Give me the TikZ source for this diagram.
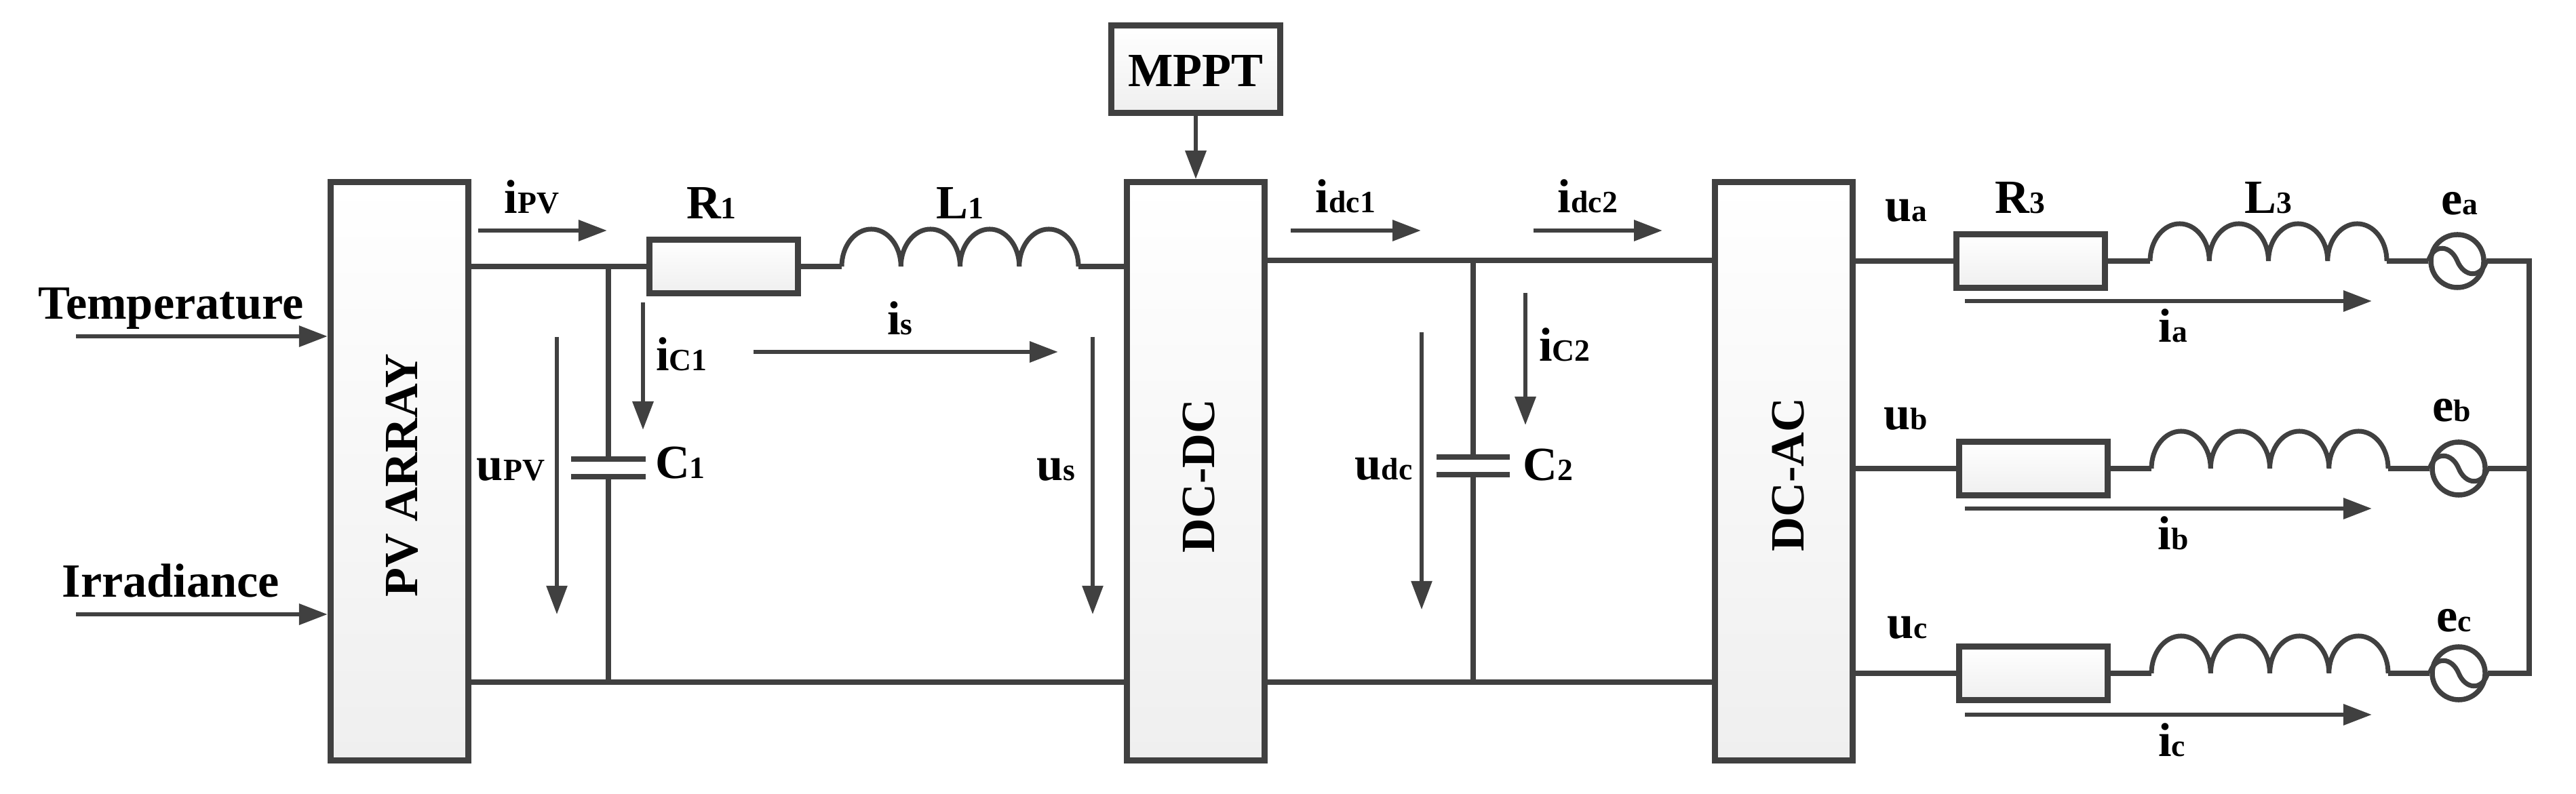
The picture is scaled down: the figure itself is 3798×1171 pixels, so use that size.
\documentclass[tikz,border=0pt]{standalone}
\usepackage{fontspec}
\setmainfont{Liberation Serif}
\usetikzlibrary{arrows.meta}
\definecolor{wiregray}{HTML}{404040}
\definecolor{boxgray}{HTML}{EFEFEF}
\newcommand{\subfont}{\fontsize{13pt}{16pt}\bfseries\selectfont}
\newcommand{\lbl}[2]{#1{\subfont #2}}
\tikzset{
  wire/.style={color=wiregray,line width=0.085cm},
  coilline/.style={color=wiregray,line width=0.07cm},
  coilturns/.style={insert path={arc (180:0:0.436cm and 0.55cm) arc (180:0:0.436cm and 0.55cm) arc (180:0:0.436cm and 0.55cm) arc (180:0:0.436cm and 0.55cm)}},
  flow/.style={color=wiregray,line width=0.065cm,-{Triangle[length=0.42cm,width=0.3cm]}},
  flowthin/.style={color=wiregray,line width=0.055cm,-{Triangle[length=0.42cm,width=0.3cm]}},
  block/.style={draw=wiregray,line width=0.09cm,top color=white,bottom color=boxgray,inner sep=0pt,minimum width=#1},
  block/.default=2.03cm,
  resistor/.style={draw=wiregray,line width=0.09cm,top color=white,bottom color=boxgray,inner sep=0pt,minimum width=2.18cm,minimum height=0.79cm},
  source/.style={draw=wiregray,circle,line width=0.075cm,fill=white,inner sep=0pt,minimum size=0.78cm},
  blocktext/.style={inner sep=0pt,font=\fontsize{20pt}{24pt}\bfseries\selectfont},
  tag/.style={blocktext,anchor=base},
}
\begin{document}
\begin{tikzpicture}[x=0.01cm,y=-0.01cm]
\useasboundingbox (0,0) rectangle (3798,1171);
% converter blocks
\node[block,minimum height=8.52cm] (pv) at (589,695) {};
\node[block,minimum height=8.52cm] (dcdc) at (1763,695) {};
\node[block,minimum height=8.52cm] (dcac) at (2630,695) {};
\node[block=2.48cm,minimum height=1.29cm] (mppt) at (1763,102) {};
\node[blocktext,rotate=90] (pvtext) at (593,701) {PV ARRAY};
\node[blocktext,rotate=90] (dcdctext) at (1768,702) {DC-DC};
\node[blocktext,rotate=90] (dcactext) at (2637,700) {DC-AC};
\node[blocktext] (mppttext) at (1763,104) {MPPT};
\draw[flow] (mppt.south) -- (mppt.south |- dcdc.north);
% inputs
\node[tag] (temp) at (252,471) {Temperature};
\node[tag] (irr) at (252,881) {Irradiance};
\coordinate (tempin) at (112,496);
\coordinate (irrin) at (112,906);
\draw[flow] (tempin) -- (tempin -| pv.west);
\draw[flow] (irrin) -- (irrin -| pv.west);
% dc side, first stage
\node[resistor] (rone) at (1067,393) {};
\coordinate (lonea) at (1241,393);
\coordinate (loneb) at (1590,393);
\draw[wire] (rone.west -| pv.east) -- (rone.west);
\draw[wire] (rone.east) -- (lonea);
\draw[coilline] (lonea) [coilturns];
\draw[wire] (loneb) -- (loneb -| dcdc.west);
\coordinate (cone) at (897,393);
\coordinate (coneu) at (897,677);
\coordinate (coned) at (897,703);
\coordinate (coneb) at (897,1006);
\draw[wire] (cone) -- (coneu);
\draw[wire] (coned) -- (coneb);
\draw[wire] ([xshift=-0.55cm]coneu) -- ([xshift=0.55cm]coneu);
\draw[wire] ([xshift=-0.55cm]coned) -- ([xshift=0.55cm]coned);
\draw[wire] (coneb -| pv.east) -- (coneb -| dcdc.west);
% dc side, second stage
\coordinate (ctwo) at (2172,384);
\coordinate (ctwou) at (2172,674);
\coordinate (ctwod) at (2172,700);
\coordinate (ctwob) at (2172,1006);
\draw[wire] (ctwo -| dcdc.east) -- (ctwo -| dcac.west);
\draw[wire] (ctwo) -- (ctwou);
\draw[wire] (ctwod) -- (ctwob);
\draw[wire] ([xshift=-0.54cm]ctwou) -- ([xshift=0.54cm]ctwou);
\draw[wire] ([xshift=-0.54cm]ctwod) -- ([xshift=0.54cm]ctwod);
\draw[wire] (ctwob -| dcdc.east) -- (ctwob -| dcac.west);
% ac side
\node[resistor] (ra) at (2994,385) {};
\node[resistor] (rb) at (2998,691) {};
\node[resistor] (rc) at (2998,993) {};
\coordinate (laa) at (3170,385);
\coordinate (lab) at (3519,385);
\coordinate (lba) at (3172,691);
\coordinate (lbb) at (3521,691);
\coordinate (lca) at (3172,993);
\coordinate (lcb) at (3521,993);
\node[source] (ea) at (3623,385) {};
\node[source] (eb) at (3625,691) {};
\node[source] (ec) at (3625,993) {};
\coordinate (busa) at (3729,385);
\coordinate (busb) at (3729,691);
\coordinate (busc) at (3729,993);
\draw[wire] (ra.west -| dcac.east) -- (ra.west);
\draw[wire] (ra.east) -- (laa);
\draw[coilline] (laa) [coilturns];
\draw[wire] (lab) -- (ea.west);
\draw[wire] (ea.east) -- (busa);
\draw[coilline] (ea.west) .. controls +(8,-26) and +(-10,-24) .. (ea.center) .. controls +(10,24) and +(-8,26) .. (ea.east);
\draw[wire] (rb.west -| dcac.east) -- (rb.west);
\draw[wire] (rb.east) -- (lba);
\draw[coilline] (lba) [coilturns];
\draw[wire] (lbb) -- (eb.west);
\draw[wire] (eb.east) -- (busb);
\draw[coilline] (eb.west) .. controls +(8,-26) and +(-10,-24) .. (eb.center) .. controls +(10,24) and +(-8,26) .. (eb.east);
\draw[wire] (rc.west -| dcac.east) -- (rc.west);
\draw[wire] (rc.east) -- (lca);
\draw[coilline] (lca) [coilturns];
\draw[wire] (lcb) -- (ec.west);
\draw[wire] (ec.east) -- (busc);
\draw[coilline] (ec.west) .. controls +(8,-26) and +(-10,-24) .. (ec.center) .. controls +(10,24) and +(-8,26) .. (ec.east);
\draw[wire,line cap=rect] (busa) -- (busc);
% current and voltage arrows
\coordinate (ipva) at (705,340);
\coordinate (ipvb) at (895,340);
\draw[flow] (ipva) -- (ipvb);
\coordinate (icoa) at (948,446);
\coordinate (icob) at (948,634);
\draw[flow] (icoa) -- (icob);
\coordinate (isa) at (1111,519);
\coordinate (isb) at (1560,519);
\draw[flow] (isa) -- (isb);
\coordinate (upva) at (821,497);
\coordinate (upvb) at (821,906);
\draw[flowthin] (upva) -- (upvb);
\coordinate (usa) at (1611,497);
\coordinate (usb) at (1611,906);
\draw[flowthin] (usa) -- (usb);
\coordinate (idcoa) at (1903,340);
\coordinate (idcob) at (2095,340);
\draw[flow] (idcoa) -- (idcob);
\coordinate (idcta) at (2261,340);
\coordinate (idctb) at (2451,340);
\draw[flow] (idcta) -- (idctb);
\coordinate (icta) at (2249,432);
\coordinate (ictb) at (2249,627);
\draw[flow] (icta) -- (ictb);
\coordinate (udca) at (2096,490);
\coordinate (udcb) at (2096,899);
\draw[flowthin] (udca) -- (udcb);
\coordinate (iaa) at (2897,444);
\coordinate (iab) at (3497,444);
\draw[flow] (iaa) -- (iab);
\coordinate (iba) at (2897,750);
\coordinate (ibb) at (3497,750);
\draw[flow] (iba) -- (ibb);
\coordinate (ica) at (2897,1054);
\coordinate (icb) at (3497,1054);
\draw[flow] (ica) -- (icb);
% labels
\node[tag] (ipvtext) at (784,315) {\lbl{i}{PV}};
\node[tag] (ronetext) at (1049,323) {\lbl{R}{1}};
\node[tag] (lonetext) at (1415,323) {\lbl{L}{1}};
\node[tag] (icotext) at (1005,547) {\lbl{i}{C1}};
\node[tag] (istext) at (1327,494) {\lbl{i}{s}};
\node[tag] (upvtext) at (753,709) {\lbl{u}{PV}};
\node[tag] (conetext) at (1003,706) {\lbl{C}{1}};
\node[tag] (ustext) at (1557,709) {\lbl{u}{s}};
\node[tag] (idcotext) at (1984,314) {\lbl{i}{dc1}};
\node[tag] (idcttext) at (2341,314) {\lbl{i}{dc2}};
\node[tag] (icttext) at (2307,533) {\lbl{i}{C2}};
\node[tag] (udctext) at (2040,708) {\lbl{u}{dc}};
\node[tag] (ctwotext) at (2282,709) {\lbl{C}{2}};
\node[tag] (uatext) at (2810,327) {\lbl{u}{a}};
\node[tag] (rthtext) at (2978,315) {\lbl{R}{3}};
\node[tag] (lthtext) at (3344,315) {\lbl{L}{3}};
\node[tag] (eatext) at (3626,317) {\lbl{e}{a}};
\node[tag] (iatext) at (3204,505) {\lbl{i}{a}};
\node[tag] (ubtext) at (2810,634) {\lbl{u}{b}};
\node[tag] (ebtext) at (3615,622) {\lbl{e}{b}};
\node[tag] (ibtext) at (3204,811) {\lbl{i}{b}};
\node[tag] (uctext) at (2812,942) {\lbl{u}{c}};
\node[tag] (ectext) at (3618,932) {\lbl{e}{c}};
\node[tag] (ictext) at (3202,1115) {\lbl{i}{c}};
\end{tikzpicture}
\end{document}
